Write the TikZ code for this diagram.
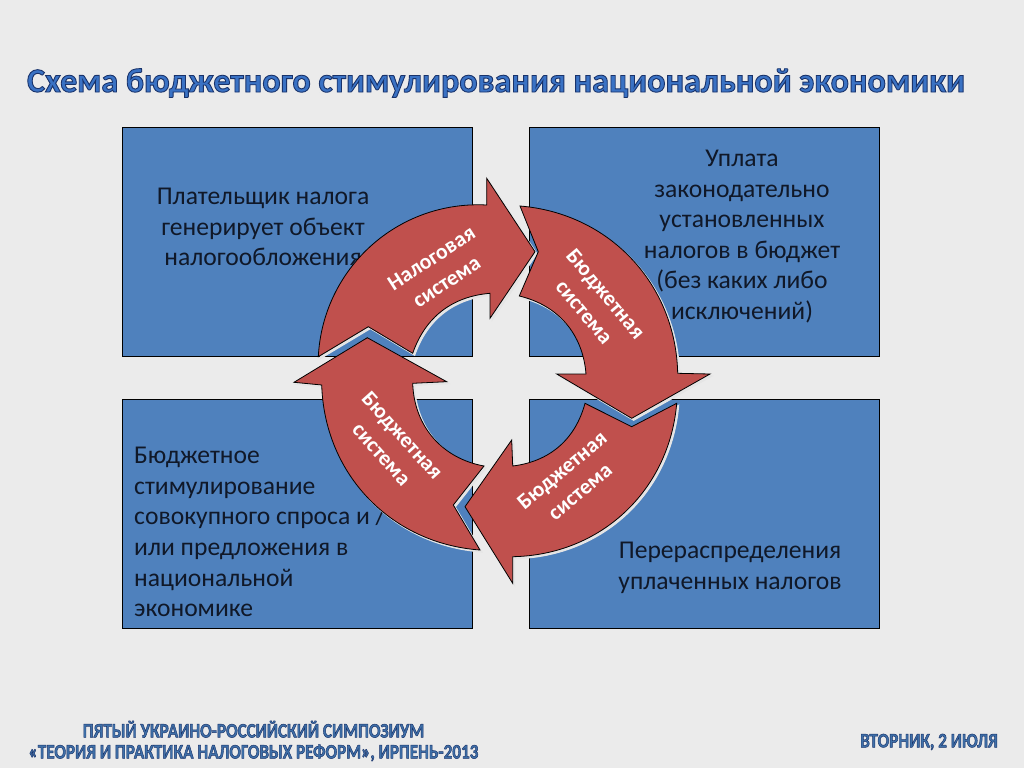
\documentclass[tikz,border=0pt]{standalone}
\usepackage{fontspec}
\setmainfont{Carlito}
\usetikzlibrary{positioning}

\definecolor{pagegray}{HTML}{EBEBEB}
\definecolor{boxblue}{HTML}{4F81BD}
\definecolor{arrowred}{HTML}{C0504D}
\definecolor{inktext}{HTML}{101828}
\definecolor{titleblue}{HTML}{3A72C4}
\definecolor{footblue}{HTML}{3F70A8}

% outlined text, dark edge round a lighter fill
\newcommand{\edgedtext}[2]{\special{pdf:code q #1 w 0.10 0.20 0.42 RG 2 Tr}#2\special{pdf:code 0 Tr Q}}

\tikzset{
  blockbox/.style={draw=black, fill=boxblue, line width=0.8pt, inner sep=0pt,
    minimum width=350pt, minimum height=229pt},
  boxtext/.style={text=inktext, inner sep=0pt, align=center,
    font=\fontsize{25.6}{30.6}\selectfont},
  roundarrow/.style={fill=arrowred, draw=black, line width=0.8pt, line join=miter,
    preaction={draw=white!90!black, fill=white!90!black, line width=1pt,
      transform canvas={xshift=2pt, yshift=-2pt}}},
  arrowtext/.style={text=white, inner sep=0pt, align=center,
    font=\bfseries\fontsize{21.8}{28}\selectfont},
  foottext/.style={text=footblue, inner sep=0pt, align=center, xscale=0.84, transform shape,
    font=\bfseries\fontsize{20.4}{21}\selectfont}
}

\begin{document}
\begin{tikzpicture}[x=1pt, y=-1pt]
  \useasboundingbox[fill=pagegray] (0,0) rectangle (1024,768);

  \node[text=titleblue, inner sep=0pt, font=\bfseries\fontsize{34.1}{40}\selectfont] (title) at (496,83)
    {\edgedtext{0.9}{Схема бюджетного стимулирования национальной экономики}};

  \node[blockbox] (tl) at (297,241.5) {};
  \node[blockbox, right=57pt of tl] (tr) {};
  \node[blockbox, below=43pt of tl] (bl) {};
  \node[blockbox, right=57pt of bl] (br) {};

  \node[boxtext] (tltext) at (263,227) {Плательщик налога\\генерирует объект\\налогообложения};
  \node[boxtext] (trtext) at (742,236.5) {Уплата\\законодательно\\установленных\\налогов в бюджет\\(без каких либо\\исключений)};
  \node[boxtext, align=left, anchor=west] (bltext) at (134,532) {Бюджетное\\стимулирование\\совокупного спроса и /\\или предложения в\\национальной\\экономике};
  \node[boxtext] (brtext) at (730,568) {Перераспределения\\уплаченных налогов};

  % four block arrows round the middle
  \draw[roundarrow] (318.3,356.7) to[bend left=45] (486.7,205) -- (486.7,178.3) -- (535,251.7)
    -- (490,318.3) -- (490,293.3) to[bend right=33] (412.7,353.3) -- (368.3,326.7) -- cycle;
  \draw[roundarrow] (520,206) to[bend left=42] (677.7,373.3) -- (710,374) -- (631.7,418.3)
    -- (556.7,374) -- (586,374) to[bend right=36] (519.3,296) -- (538.3,251.7) -- cycle;
  \draw[roundarrow] (676.7,403.3) to[bend left=42] (512.7,556.7) -- (512.7,583.3) -- (465,506.7)
    -- (511.7,440) -- (512.7,466) to[bend right=34] (585,403.3) -- (631.7,426.7) -- cycle;
  \draw[roundarrow] (480,550) to[bend left=42] (321.7,385) -- (294,382.3) -- (367.3,337.7)
    -- (446.7,381.7) -- (412.7,383.3) to[bend right=39] (484,466) -- (453.3,505) -- cycle;

  \node[arrowtext, rotate=33] (taxlabel) at (439,270) {Налоговая\\система};
  \node[arrowtext, rotate=-50] (budgetright) at (595,303) {Бюджетная\\система};
  \node[arrowtext, rotate=40] (budgetlow) at (571,481) {Бюджетная\\система};
  \node[arrowtext, rotate=-48] (budgetleft) at (392,445) {Бюджетная\\система};

  \node[foottext] (symposium) at (253.5,741) {\edgedtext{0.5}{ПЯТЫЙ УКРАИНО-РОССИЙСКИЙ СИМПОЗИУМ}\\\edgedtext{0.5}{«ТЕОРИЯ И ПРАКТИКА НАЛОГОВЫХ РЕФОРМ», ИРПЕНЬ-2013}};
  \node[foottext] (datelabel) at (929,742) {\edgedtext{0.5}{ВТОРНИК, 2 ИЮЛЯ}};
\end{tikzpicture}
\end{document}
